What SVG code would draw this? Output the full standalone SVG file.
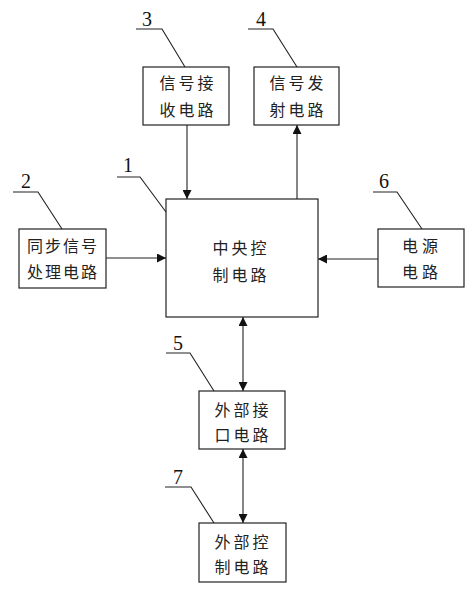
<svg xmlns="http://www.w3.org/2000/svg" width="474" height="594" viewBox="0 0 474 594">
<style>
.box{fill:#fff;stroke:#222;stroke-width:1.2}
.ln{fill:none;stroke:#222;stroke-width:1.1}
.t{font-family:"Noto Sans CJK SC","Noto Sans",sans-serif;font-size:16px;fill:#222;text-anchor:middle;letter-spacing:3px}
.n{font-family:"Liberation Serif",serif;font-size:20px;fill:#111;text-anchor:middle}
</style>
<defs>
<marker id="ah" viewBox="0 0 10 10" refX="10" refY="5" markerWidth="11" markerHeight="9" markerUnits="userSpaceOnUse" orient="auto-start-reverse">
<path d="M0,0 L10,5 L0,10 Z" fill="#111"/>
</marker>
</defs>
<rect width="474" height="594" fill="#fff"/>
<g id="connectors">
<line class="ln" x1="187" y1="125" x2="187" y2="199" marker-end="url(#ah)"/>
<line class="ln" x1="297" y1="199" x2="297" y2="125" marker-end="url(#ah)"/>
<line class="ln" x1="106" y1="258" x2="166" y2="258" marker-end="url(#ah)"/>
<line class="ln" x1="378" y1="259" x2="318" y2="259" marker-end="url(#ah)"/>
<line class="ln" x1="243" y1="317" x2="243" y2="391" marker-start="url(#ah)" marker-end="url(#ah)"/>
<line class="ln" x1="243" y1="449" x2="243" y2="523" marker-start="url(#ah)" marker-end="url(#ah)"/>
</g>
<g id="node1">
<rect class="box" x="166" y="199" width="152" height="118"/>
<text class="t" x="241" y="254">中央控</text>
<text class="t" x="241" y="281">制电路</text>
<polyline class="ln" points="117,177 140,177 166,212"/>
<text class="n" x="128" y="172">1</text>
</g>
<g id="node2">
<rect class="box" x="19" y="229" width="87" height="59"/>
<text class="t" x="63" y="252" style="letter-spacing:2px">同步信号</text>
<text class="t" x="63" y="278" style="letter-spacing:2px">处理电路</text>
<polyline class="ln" points="13,192 38,192 62,229"/>
<text class="n" x="26" y="188">2</text>
</g>
<g id="node3">
<rect class="box" x="143" y="67" width="86" height="58"/>
<text class="t" x="188" y="89">信号接</text>
<text class="t" x="188" y="116">收电路</text>
<polyline class="ln" points="136,29 162,29 185,67"/>
<text class="n" x="147" y="26">3</text>
</g>
<g id="node4">
<rect class="box" x="254" y="67" width="85" height="58"/>
<text class="t" x="298" y="89">信号发</text>
<text class="t" x="298" y="116">射电路</text>
<polyline class="ln" points="248,29 273,29 297,67"/>
<text class="n" x="261" y="26">4</text>
</g>
<g id="node5">
<rect class="box" x="199" y="391" width="86" height="58"/>
<text class="t" x="243" y="416">外部接</text>
<text class="t" x="243" y="441">口电路</text>
<polyline class="ln" points="166,353 190,353 214,391"/>
<text class="n" x="178" y="350">5</text>
</g>
<g id="node6">
<rect class="box" x="378" y="229" width="86" height="58"/>
<text class="t" x="422" y="252" style="letter-spacing:4px">电源</text>
<text class="t" x="422" y="278" style="letter-spacing:4px">电路</text>
<polyline class="ln" points="373,192 397,192 422,229"/>
<text class="n" x="384" y="188">6</text>
</g>
<g id="node7">
<rect class="box" x="199" y="523" width="87" height="59"/>
<text class="t" x="243" y="548">外部控</text>
<text class="t" x="243" y="573">制电路</text>
<polyline class="ln" points="165,487 191,487 214,523"/>
<text class="n" x="178" y="484">7</text>
</g>
</svg>
